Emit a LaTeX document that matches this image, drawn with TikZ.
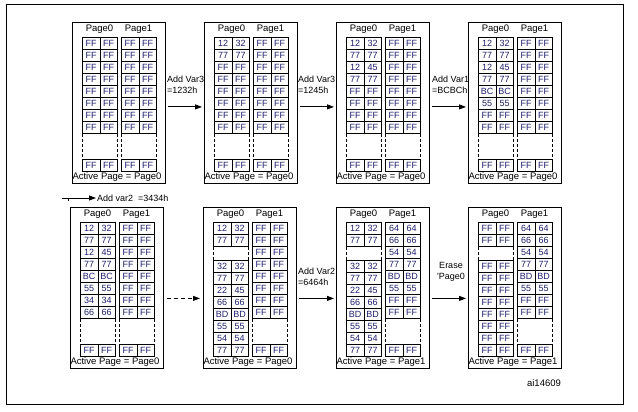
\documentclass[tikz,border=0pt]{standalone}
\usepackage{fontspec}
\setmainfont{Liberation Sans}
\usetikzlibrary{arrows.meta, positioning, calc}
\definecolor{cCell}{RGB}{30,30,110}
\tikzset{
	pagebox/.style={rectangle, draw=black, line width=0.8pt, minimum width=93pt, minimum height=161pt, anchor=north west, inner sep=0pt},
	hdr/.style    ={inner sep=0pt, font=\fontsize{9.5}{10}\selectfont},
	% flash cells of one page
	memcell/.style={rectangle, draw=black, line width=0.8pt, minimum width=17.5pt, minimum height=12pt, inner sep=0pt, anchor=north west, text=cCell, font=\fontsize{9}{9}\selectfont},
	gapline/.style={line width=0.8pt, dash pattern=on 3pt off 2pt},
	% operations between the states
	oplbl/.style  ={align=left, inner sep=0pt, anchor=north west, font=\fontsize{9}{11}\selectfont},
	oparrow/.style={-{Triangle[length=7pt, width=5pt]}, line width=0.8pt},
}
\newcommand{\mempanel}[2]{%
	\node[pagebox] (#1) at (0,0) {};
	\node[hdr] (#1-h0) at (27.5,7) {Page0};
	\node[hdr] (#1-h1) at (66.5,7) {Page1};
	\node[hdr] (#1-act) at (45,155) {Active Page = #2};
}
\newcommand{\memcol}[6]{%
	\foreach \va/\vb [count=\i] in {#3} {
		\node[memcell] (#1-t\i-a) at (#2,{15+(\i-1)*12}) {\va};
		\node[memcell] (#1-t\i-b) at ({#2+17.5},{15+(\i-1)*12}) {\vb};
	}
	\foreach \va/\vb [count=\j] in {#6} {
		\node[memcell] (#1-b\j-a) at (#2,{15+#4*12+#5+(\j-1)*12}) {\va};
		\node[memcell] (#1-b\j-b) at ({#2+17.5},{15+#4*12+#5+(\j-1)*12}) {\vb};
	}
	\draw[gapline] (#1-t#4-a.south west) -- (#1-b1-a.north west);
	\draw[gapline] (#1-t#4-b.south east) -- (#1-b1-b.north east);
}

\begin{document}
\begin{tikzpicture}[x=1pt, y=-1pt]
	\useasboundingbox (0,0) rectangle (638,412);
	\draw[line width=0.8pt] (6,4) rectangle (623,404);
	% top row
	\begin{scope}[shift={(72,22)}]
		\mempanel{p1}{Page0}
		\memcol{p1a}{10}{FF/FF,FF/FF,FF/FF,FF/FF,FF/FF,FF/FF,FF/FF,FF/FF}{8}{26}{FF/FF}
		\memcol{p1b}{49}{FF/FF,FF/FF,FF/FF,FF/FF,FF/FF,FF/FF,FF/FF,FF/FF}{8}{26}{FF/FF}
	\end{scope}
	\begin{scope}[shift={(204,22)}]
		\mempanel{p2}{Page0}
		\memcol{p2a}{10}{12/32,77/77,FF/FF,FF/FF,FF/FF,FF/FF,FF/FF,FF/FF}{8}{26}{FF/FF}
		\memcol{p2b}{49}{FF/FF,FF/FF,FF/FF,FF/FF,FF/FF,FF/FF,FF/FF,FF/FF}{8}{26}{FF/FF}
	\end{scope}
	\begin{scope}[shift={(336,22)}]
		\mempanel{p3}{Page0}
		\memcol{p3a}{10}{12/32,77/77,12/45,77/77,FF/FF,FF/FF,FF/FF,FF/FF}{8}{26}{FF/FF}
		\memcol{p3b}{49}{FF/FF,FF/FF,FF/FF,FF/FF,FF/FF,FF/FF,FF/FF,FF/FF}{8}{26}{FF/FF}
	\end{scope}
	\begin{scope}[shift={(468,22)}]
		\mempanel{p4}{Page0}
		\memcol{p4a}{10}{12/32,77/77,12/45,77/77,BC/BC,55/55,FF/FF,FF/FF}{8}{26}{FF/FF}
		\memcol{p4b}{49}{FF/FF,FF/FF,FF/FF,FF/FF,FF/FF,FF/FF,FF/FF,FF/FF}{8}{26}{FF/FF}
	\end{scope}
	% bottom row
	\begin{scope}[shift={(70,207)}]
		\mempanel{p5}{Page0}
		\memcol{p5a}{10}{12/32,77/77,12/45,77/77,BC/BC,55/55,34/34,66/66}{8}{26}{FF/FF}
		\memcol{p5b}{49}{FF/FF,FF/FF,FF/FF,FF/FF,FF/FF,FF/FF,FF/FF,FF/FF}{8}{26}{FF/FF}
	\end{scope}
	\begin{scope}[shift={(203,207)}]
		\mempanel{p6}{Page0}
		\memcol{p6a}{10}{12/32,77/77}{2}{14}{32/32,77/77,22/45,66/66,BD/BD,55/55,54/54,77/77}
		\memcol{p6b}{49}{FF/FF,FF/FF,FF/FF,FF/FF,FF/FF,FF/FF,FF/FF,FF/FF}{8}{26}{FF/FF}
	\end{scope}
	\begin{scope}[shift={(336,207)}]
		\mempanel{p7}{Page1}
		\memcol{p7a}{10}{12/32,77/77}{2}{14}{32/32,77/77,22/45,66/66,BD/BD,55/55,54/54,77/77}
		\memcol{p7b}{49}{64/64,66/66,54/54,77/77,BD/BD,55/55,FF/FF,FF/FF}{8}{26}{FF/FF}
	\end{scope}
	\begin{scope}[shift={(468,207)}]
		\mempanel{p8}{Page1}
		\memcol{p8a}{10}{FF/FF,FF/FF}{2}{14}{FF/FF,FF/FF,FF/FF,FF/FF,FF/FF,FF/FF,FF/FF,FF/FF}
		\memcol{p8b}{49}{64/64,66/66,54/54,77/77,BD/BD,55/55,FF/FF,FF/FF}{8}{26}{FF/FF}
	\end{scope}
	% operations
	\node[oplbl] (op12) at (167,75.5) {Add Var3\\=1232h};
	\node[oplbl] (op23) at (298,75.5) {Add Var3\\=1245h};
	\node[oplbl] (op34) at (432,75.5) {Add Var1\\=BCBCh};
	\node[oplbl, anchor=west] (op45) at (97,198) {Add var2~~=3434h};
	\node[oplbl] (op67) at (298,268) {Add Var2\\=6464h};
	\node[oplbl, align=center, anchor=north] (op78) at (451,262) {Erase\\\textquotesingle Page0};
	\draw[oparrow, shorten <=2pt, shorten >=2pt] ([yshift=-4pt]p1.east) -- ([yshift=-4pt]p2.west);
	\draw[oparrow, shorten <=2pt, shorten >=2pt] ([yshift=-4pt]p2.east) -- ([yshift=-4pt]p3.west);
	\draw[oparrow, shorten <=2pt, shorten >=2pt] ([yshift=-4pt]p3.east) -- ([yshift=-4pt]p4.west);
	\coordinate (v2-start) at (62,198);
	\coordinate (v2-tick) at (68,201);
	\draw[oparrow, shorten >=1pt] (v2-start) -- (op45.west);
	\draw[line width=0.8pt] (v2-tick) -- (v2-tick |- v2-start);
	\draw[oparrow, dash pattern=on 4pt off 3pt, shorten <=3pt, shorten >=3pt] ([yshift=-10.5pt]p5.east) -- ([yshift=-10.5pt]p6.west);
	\draw[oparrow, shorten <=2pt, shorten >=2pt] ([yshift=-10.5pt]p6.east) -- ([yshift=-10.5pt]p7.west);
	\draw[oparrow, shorten <=2pt, shorten >=2pt] ([yshift=-10.5pt]p7.east) -- ([yshift=-10.5pt]p8.west);
	\node[hdr, font=\fontsize{9.5}{11}\selectfont] (fig-id) at (544,383) {ai14609};
\end{tikzpicture}
\end{document}
